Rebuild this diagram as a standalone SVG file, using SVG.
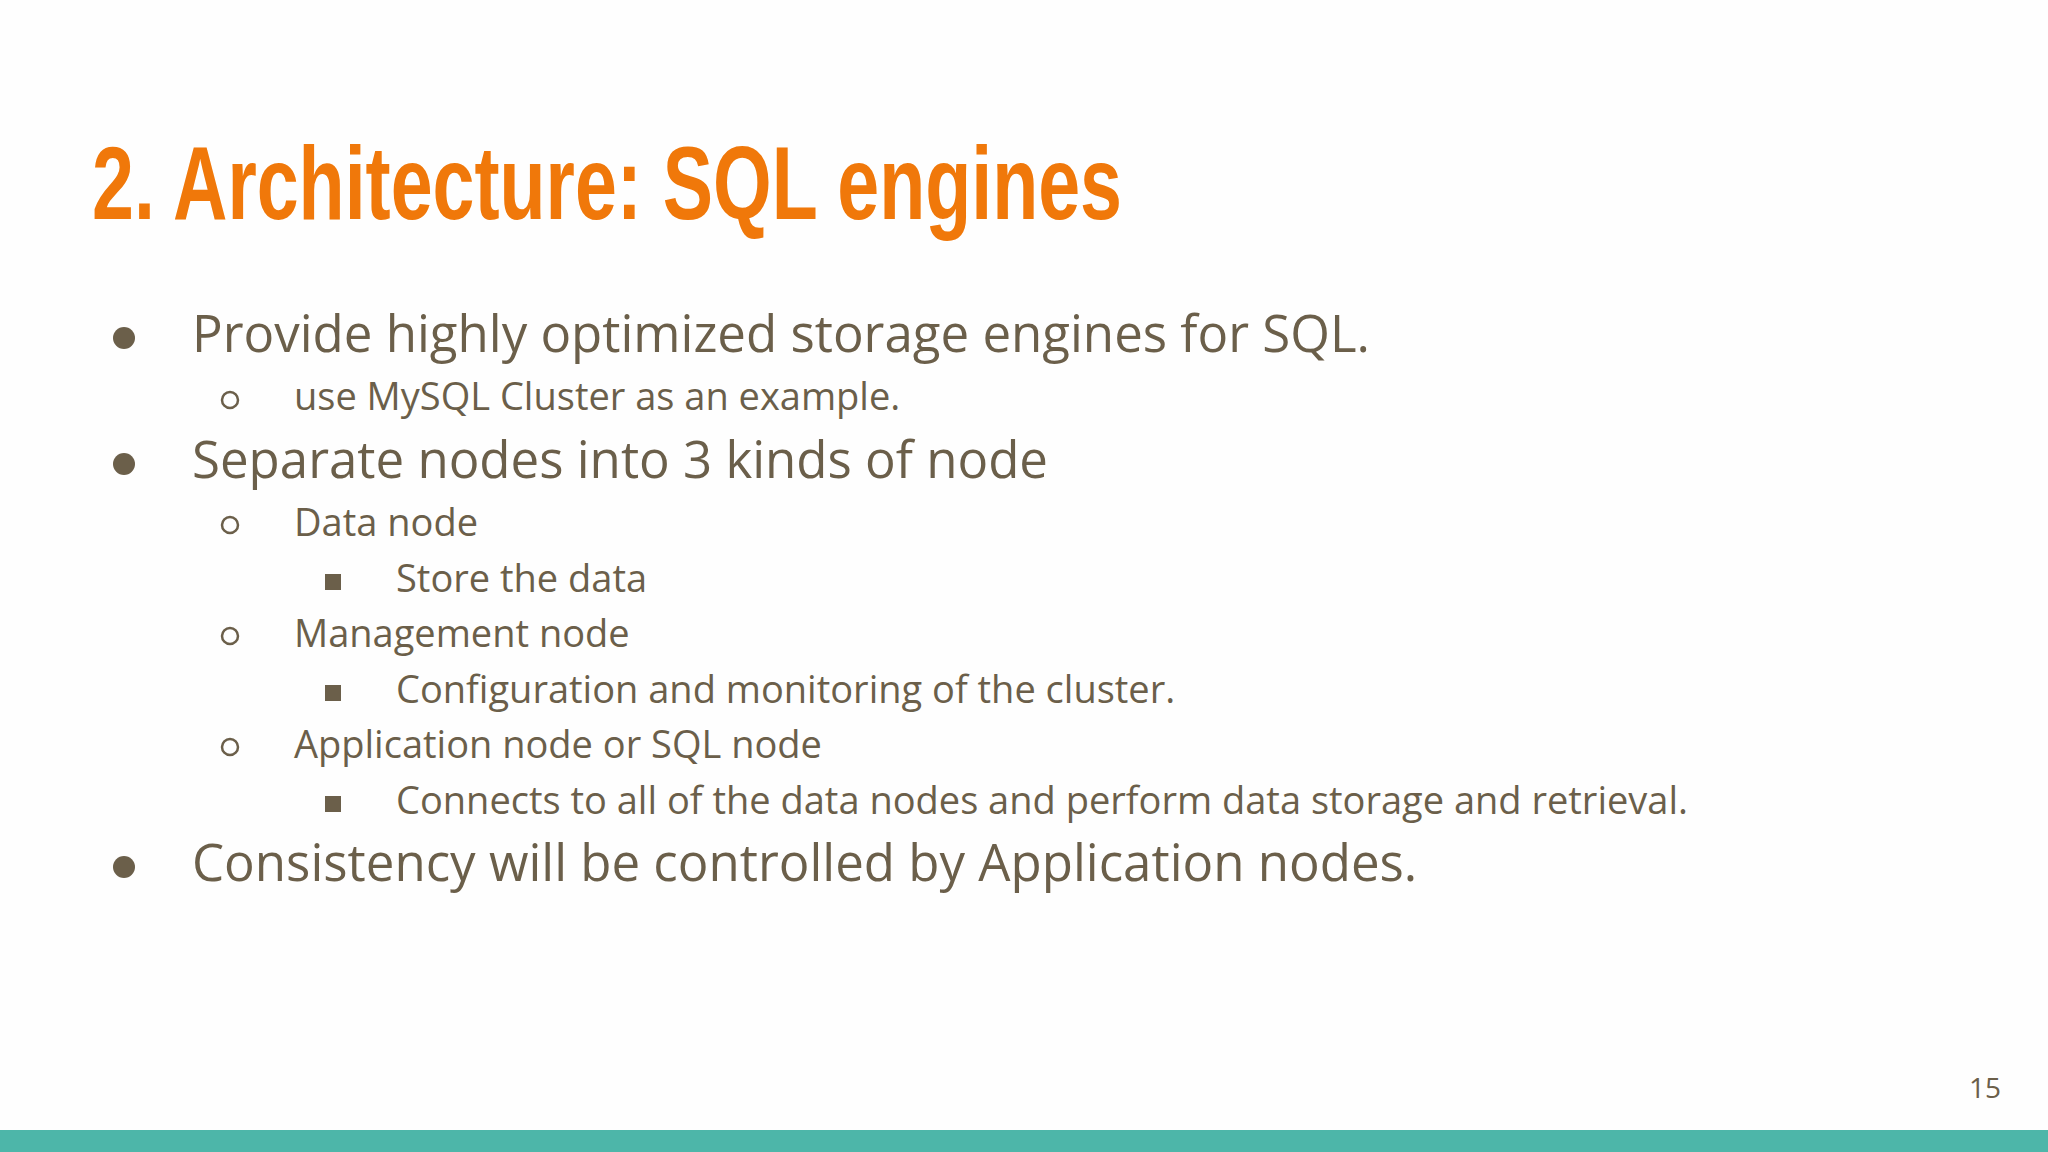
<svg xmlns="http://www.w3.org/2000/svg" width="2048" height="1152" viewBox="0 0 2048 1152">
<style>
.t{font-family:"Open Sans","Liberation Sans",sans-serif;fill:#6b5f4a}
.l1{font-size:51px}.l2{font-size:38px}.l3{font-size:38px}
.title{font-family:"Liberation Sans",sans-serif;font-weight:bold;fill:#f0780a;font-size:104px}
</style>
<rect width="2048" height="1152" fill="#fefefe"/>
<text class="title" x="92" y="219" textLength="1030" lengthAdjust="spacingAndGlyphs">2. Architecture: SQL engines</text>
<g id="b1"><circle cx="124" cy="338" r="11" fill="#6b5f4a"/><text class="t l1" x="192" y="352">Provide highly optimized storage engines for SQL.</text></g>
<g id="b1a"><circle cx="230" cy="400" r="8" fill="none" stroke="#6b5f4a" stroke-width="2.5"/><text class="t l2" x="294" y="410">use MySQL Cluster as an example.</text></g>
<g id="b2"><circle cx="124" cy="464" r="11" fill="#6b5f4a"/><text class="t l1" x="192" y="478">Separate nodes into 3 kinds of node</text></g>
<g id="b2a"><circle cx="230" cy="525" r="8" fill="none" stroke="#6b5f4a" stroke-width="2.5"/><text class="t l2" x="294" y="536">Data node</text></g>
<g id="b2a1"><rect x="325" y="574" width="16" height="16" fill="#6b5f4a"/><text class="t l3" x="396" y="592">Store the data</text></g>
<g id="b2b"><circle cx="230" cy="636" r="8" fill="none" stroke="#6b5f4a" stroke-width="2.5"/><text class="t l2" x="294" y="647">Management node</text></g>
<g id="b2b1"><rect x="325" y="685" width="16" height="16" fill="#6b5f4a"/><text class="t l3" x="396" y="703">Configuration and monitoring of the cluster.</text></g>
<g id="b2c"><circle cx="230" cy="747" r="8" fill="none" stroke="#6b5f4a" stroke-width="2.5"/><text class="t l2" x="294" y="758">Application node or SQL node</text></g>
<g id="b2c1"><rect x="325" y="796" width="16" height="16" fill="#6b5f4a"/><text class="t l3" x="396" y="814">Connects to all of the data nodes and perform data storage and retrieval.</text></g>
<g id="b3"><circle cx="124" cy="867" r="11" fill="#6b5f4a"/><text class="t l1" x="192" y="881">Consistency will be controlled by Application nodes.</text></g>
<text class="t" x="2001" y="1098" font-size="28" text-anchor="end">15</text>
<rect x="0" y="1130" width="2048" height="22" fill="#4db6a9"/>
</svg>
